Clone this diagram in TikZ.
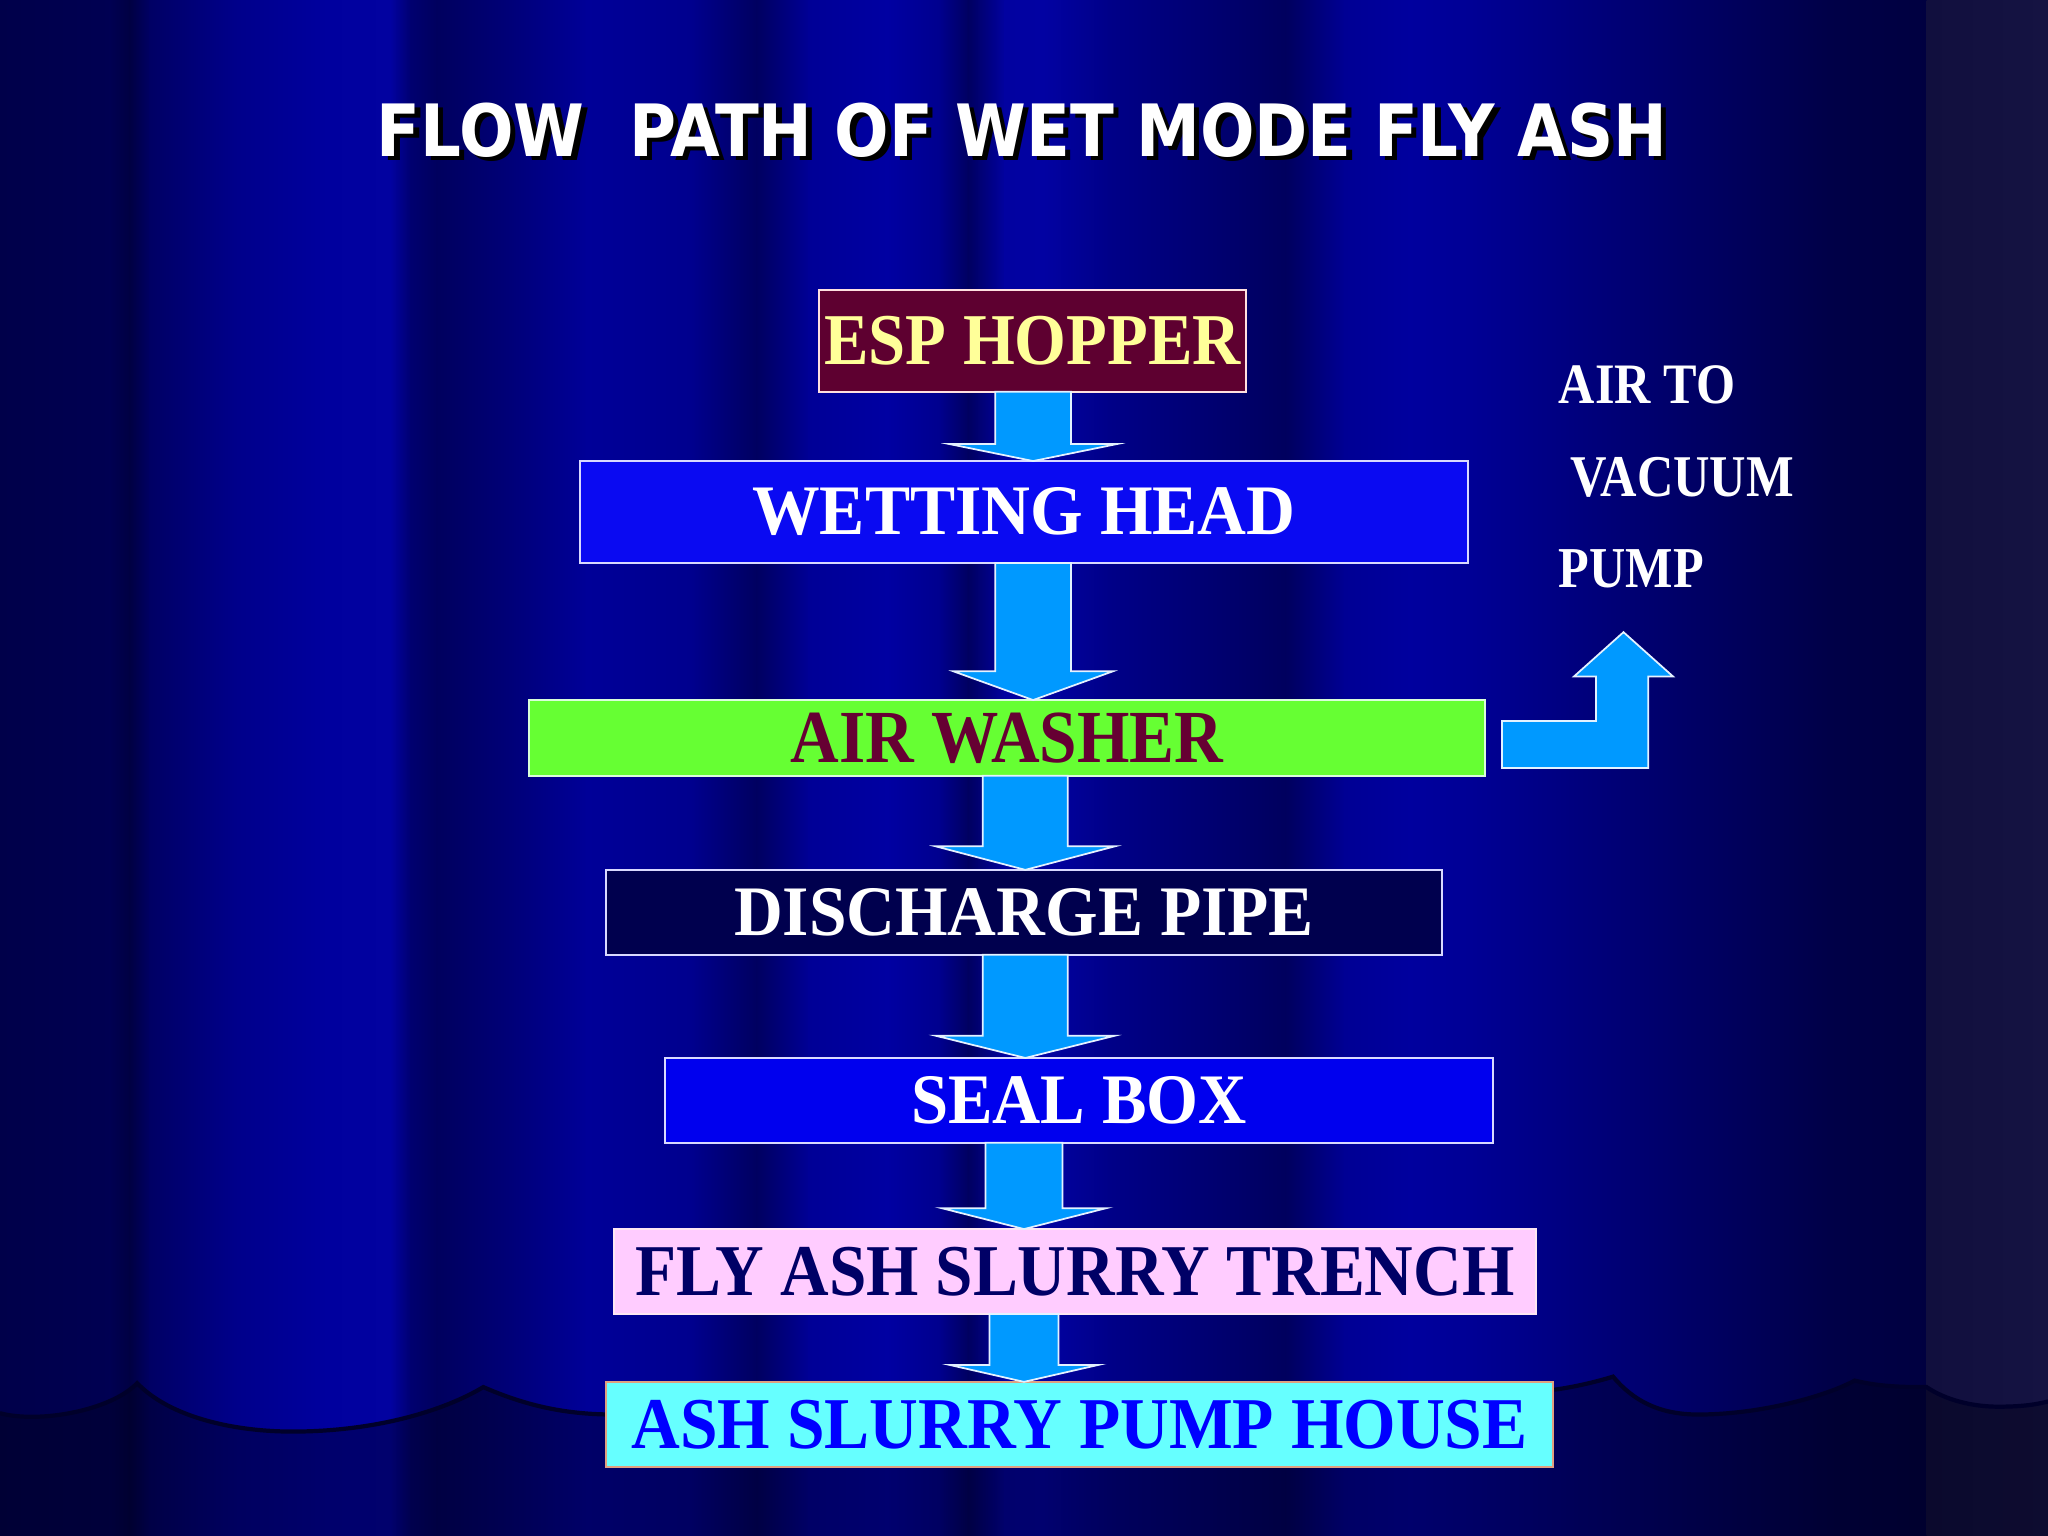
\documentclass[tikz,border=0pt]{standalone}
\usepackage{fontspec}
\setmainfont{Liberation Serif}
\newfontfamily\titlefont{DejaVu Sans}
\usetikzlibrary{calc}
\newlength\upx
\setlength\upx{0.0130612cm}
\newcommand{\fitt}[3]{\raisebox{-3\upx}{\resizebox{#1\upx}{#2\upx}{#3}}}
\newcommand{\fitp}[3]{\resizebox{#1\upx}{#2\upx}{#3}}
% background colours
\definecolor{bgR}{HTML}{110F3E}
\definecolor{bgS}{HTML}{151342}
\definecolor{hemfill}{HTML}{000010}
\definecolor{hemline}{HTML}{00002A}
% box colours
\definecolor{espfill}{HTML}{5E0030}
\definecolor{esptext}{HTML}{FFFF99}
\definecolor{wetfill}{HTML}{0A0AF2}
\definecolor{awfill}{HTML}{66FF33}
\definecolor{awtext}{HTML}{660033}
\definecolor{disfill}{HTML}{00004E}
\definecolor{sealfill}{HTML}{0000EE}
\definecolor{trfill}{HTML}{FFCCFF}
\definecolor{trtext}{HTML}{000066}
\definecolor{pumpfill}{HTML}{66FFFF}
\definecolor{pumptext}{HTML}{0000FF}
\definecolor{pumpedge}{HTML}{E0A080}
\definecolor{arrfill}{HTML}{0099FF}
\definecolor{arredge}{HTML}{E4F2FF}
\tikzset{
  flowbox/.style={rectangle, draw=white!85!blue, line width=0.6pt, inner sep=0pt, outer sep=0pt, font=\bfseries},
  blockarr/.style={fill=arrfill, draw=arredge, line width=0.5pt, line join=miter},
  sidelabel/.style={anchor=base west, inner sep=0pt, text=white, font=\bfseries},
}
% block arrow: top node, bottom node, centre x, shaft half width, head half width, head length
\newcommand{\blockarrow}[6]{%
  \path[blockarr] let \p1=(#1.south), \p2=(#2.north), \p3=(#3,0) in
    (\x3-#4*\upx,\y1) -- (\x3+#4*\upx,\y1) -- (\x3+#4*\upx,\y2+#6*\upx)
    -- (\x3+#5*\upx,\y2+#6*\upx) -- (\x3,\y2) -- (\x3-#5*\upx,\y2+#6*\upx)
    -- (\x3-#4*\upx,\y2+#6*\upx) -- cycle;}
\begin{document}
\begin{tikzpicture}[x=0.0130612cm, y=-0.0130612cm]
\useasboundingbox (0,0) rectangle (1568,1176);
% ---------- background curtain ----------
\fill[blue!40!black] (0,0) rectangle (1568,1176);
\foreach \a/\b/\ha/\hb in {
  0/85/00004A/000052, 84/100/000052/000042, 99/115/000042/000064, 114/180/000064/00008A,
  179/250/00008A/00009E, 249/300/00009E/0202A0, 299/315/0202A0/000070, 314/335/000070/00005E,
  334/395/00005E/00007A, 394/450/00007A/000098, 449/530/000098/00008E, 529/580/00008E/000060,
  579/620/000060/000096, 619/680/000096/0000A2, 679/720/0000A2/00008E, 719/742/00008E/000060,
  741/770/000060/0202A0, 769/800/0202A0/0202A2, 799/850/0202A2/000088, 849/950/000088/00006A,
  949/985/00006A/00005E, 984/1030/00005E/000094, 1029/1080/000094/00009E, 1079/1130/00009E/000094,
  1129/1200/000094/000080, 1199/1300/000080/000064, 1299/1400/000064/000048, 1399/1476/000048/000040}
  {\definecolor{ca}{HTML}{\ha}\definecolor{cb}{HTML}{\hb}%
   \shade[left color=ca, right color=cb] (\a,0) rectangle (\b,1176);}
\shade[left color=bgR, right color=bgS] (1475,0) rectangle (1568,1176);
% curtain hem
\fill[hemfill, fill opacity=0.35]
  (0,1082) .. controls (30,1090) and (85,1080) .. (105,1059)
  .. controls (130,1085) and (180,1097) .. (230,1096)
  .. controls (290,1095) and (340,1080) .. (370,1062)
  .. controls (400,1075) and (430,1083) .. (470,1083)
  -- (1190,1064)
  .. controls (1205,1062) and (1222,1058) .. (1235,1054)
  .. controls (1250,1072) and (1270,1083) .. (1300,1083)
  .. controls (1350,1083) and (1400,1068) .. (1420,1057)
  .. controls (1440,1062) and (1460,1062) .. (1475,1062)
  .. controls (1490,1072) and (1510,1077) .. (1530,1077)
  .. controls (1550,1077) and (1560,1075) .. (1568,1073)
  -- (1568,1176) -- (0,1176) -- cycle;
\draw[hemline, line width=1.2pt]
  (0,1082) .. controls (30,1090) and (85,1080) .. (105,1059)
  .. controls (130,1085) and (180,1097) .. (230,1096)
  .. controls (290,1095) and (340,1080) .. (370,1062)
  .. controls (400,1075) and (430,1083) .. (470,1083);
\draw[hemline, line width=1.2pt]
  (1190,1064)
  .. controls (1205,1062) and (1222,1058) .. (1235,1054)
  .. controls (1250,1072) and (1270,1083) .. (1300,1083)
  .. controls (1350,1083) and (1400,1068) .. (1420,1057)
  .. controls (1440,1062) and (1460,1062) .. (1475,1062)
  .. controls (1490,1072) and (1510,1077) .. (1530,1077)
  .. controls (1550,1077) and (1560,1075) .. (1568,1073);
% ---------- title ----------
\node[anchor=base west, inner sep=0pt, text=black] (titleshadow) at (292,123)
  {\titlefont\bfseries\fitp{988}{41}{FLOW\ \ PATH OF WET MODE FLY ASH}};
\node[anchor=base west, inner sep=0pt, text=white] (title) at (288,120)
  {\titlefont\bfseries\fitp{988}{41}{FLOW\ \ PATH OF WET MODE FLY ASH}};
% ---------- boxes ----------
\node[flowbox, fill=espfill, draw=white!88!red, text=esptext, minimum width=327\upx, minimum height=78\upx]
  (esp) at (790.5,261) {\fitt{319}{37}{ESP HOPPER}};
\node[flowbox, fill=wetfill, text=white, minimum width=680\upx, minimum height=78\upx]
  (wet) at (784,392) {\fitt{416}{36}{WETTING HEAD}};
\node[flowbox, fill=awfill, draw=white!85!green, text=awtext, minimum width=732\upx, minimum height=58\upx]
  (aw) at (771,565) {\fitt{331}{38}{AIR WASHER}};
\node[flowbox, fill=disfill, text=white, minimum width=640\upx, minimum height=65\upx]
  (dis) at (784,698.5) {\fitt{444}{36}{DISCHARGE PIPE}};
\node[flowbox, fill=sealfill, text=white, minimum width=634\upx, minimum height=65\upx]
  (seal) at (826,842.5) {\fitt{257}{36}{SEAL BOX}};
\node[flowbox, fill=trfill, draw=white!90!magenta, text=trtext, minimum width=706\upx, minimum height=65\upx]
  (tr) at (823,973.5) {\fitt{673}{37}{FLY ASH SLURRY TRENCH}};
\node[flowbox, fill=pumpfill, draw=pumpedge, text=pumptext, minimum width=725\upx, minimum height=65\upx]
  (pump) at (826.5,1090.5) {\fitt{686}{37}{ASH SLURRY PUMP HOUSE}};
% ---------- side labels ----------
\node[sidelabel] (lab1) at (1193,309) {\fitp{135}{29}{AIR TO}};
\node[sidelabel] (lab2) at (1202,380) {\fitp{171}{30}{VACUUM}};
\node[sidelabel] (lab3) at (1193,450) {\fitp{111}{29}{PUMP}};
\coordinate (vac) at (1243,484);
% ---------- arrows ----------
\blockarrow{esp}{wet}{791}{29}{64}{13}
\blockarrow{wet}{aw}{791}{29}{61}{22}
\blockarrow{aw}{dis}{785}{32.5}{68.5}{18}
\blockarrow{dis}{seal}{785}{32.5}{68.5}{17}
\blockarrow{seal}{tr}{784}{29.5}{63}{16}
\blockarrow{tr}{pump}{784}{26.5}{57}{13}
% bent arrow from air washer to the vacuum pump
\path[blockarr] let \p1=(aw.east), \p2=(vac) in
  (\x1+13*\upx,\y1+13*\upx) -- (\x2-21*\upx,\y1+13*\upx) -- (\x2-21*\upx,\y2-34*\upx)
  -- (\x2-38*\upx,\y2-34*\upx) -- (\x2,\y2) -- (\x2+38*\upx,\y2-34*\upx)
  -- (\x2+19*\upx,\y2-34*\upx) -- (\x2+19*\upx,\y1-23*\upx) -- (\x1+13*\upx,\y1-23*\upx) -- cycle;
\end{tikzpicture}
\end{document}
